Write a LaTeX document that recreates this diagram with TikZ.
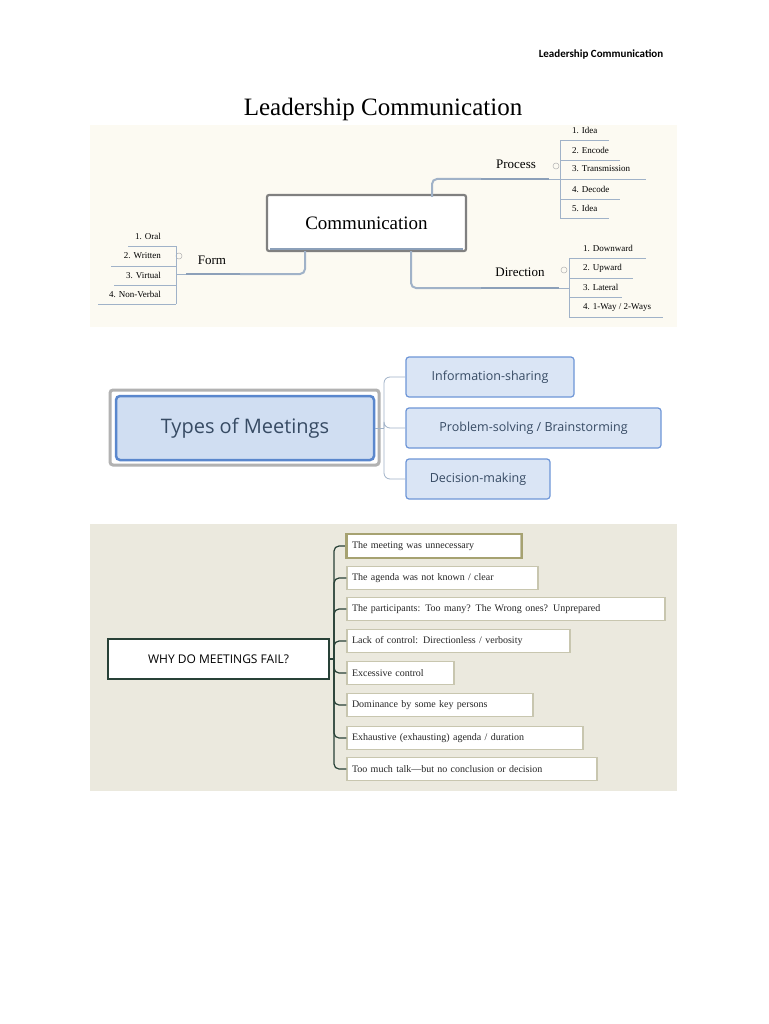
\documentclass[tikz,border=0pt]{standalone}
\usepackage{fontspec}
\setmainfont{Liberation Serif}
\newfontfamily\hdr{Carlito}
\newfontfamily\osans{Open Sans}
\definecolor{brc}{RGB}{160,178,200}
\definecolor{tbrc}{RGB}{140,160,185}
\definecolor{mborder}{RGB}{110,150,215}
\definecolor{mfill}{RGB}{218,229,245}
\definecolor{mtext}{RGB}{55,75,100}
\definecolor{tborder}{RGB}{90,135,205}
\definecolor{tfill}{RGB}{208,222,242}
\definecolor{fgreen}{RGB}{40,65,55}
\definecolor{fbord}{RGB}{200,198,175}
\definecolor{p3}{RGB}{235,233,222}
\definecolor{p1}{RGB}{252,250,242}
\begin{document}
\begin{tikzpicture}[x=1pt,y=-1pt,
  br/.style={draw=brc,line width=0.7pt},
  thick br/.style={draw=tbrc,line width=2.5pt},
  itm/.style={font=\fontsize{9}{10}\selectfont,inner sep=1pt},
  mbox/.style={draw=mborder,line width=1.2pt,fill=mfill,rounded corners=3pt,font=\osans\fontsize{12.5}{14}\selectfont,text=mtext,minimum height=40pt,inner sep=0pt},
  fbox/.style={draw=fbord,line width=1.2pt,fill=white,minimum height=23pt,inner sep=0pt,font=\fontsize{10}{11}\selectfont,text=black!85},
  circ/.style={draw=gray!60,circle,inner sep=0pt,minimum size=6pt,line width=0.5pt}]
\useasboundingbox (0,0) rectangle (768,1024);
\fill[white] (0,0) rectangle (768,1024);
\node[font=\hdr\bfseries\fontsize{11}{12}\selectfont] (hdr) at (601,55) {Leadership Communication};
\node[font=\fontsize{25}{28}\selectfont] (title) at (383,109) {Leadership Communication};
% panel 1
\fill[p1] (90,125) rectangle (677,327);
\node[draw=gray,line width=2.2pt,rounded corners=2pt,minimum width=199pt,minimum height=56pt,fill=white,font=\fontsize{19}{22}\selectfont] (comm) at (366.5,223) {Communication};
\draw[thick br,line width=2pt] (270,249) -- (463,249);
% process
\node[font=\fontsize{13}{15}\selectfont] (proc) at (516,164) {Process};
\draw[br,line width=2pt,rounded corners=5pt] (432,197) |- (481,179);
\draw[thick br] (481,179) -- (549,179);
\draw[br] (549,179) -- (560,179);
\node[circ] (pc) at (556,166) {};
\draw[br] (560,141) -- (560,218);
\foreach \t/\y/\e in {{1. Idea}/130/609,{2. Encode}/150/620,{3. Transmission}/169/646,{4. Decode}/189/620,{5. Idea}/208/609}{
  \node[itm,anchor=west] at (571,\y) {\t};
  \draw[br] (560,\y+10.5) -- (\e,\y+10.5);}
% form
\node[font=\fontsize{13}{15}\selectfont] (form) at (212,260) {Form};
\draw[br,line width=2pt,rounded corners=5pt] (305,251) |- (240,274);
\draw[thick br] (240,274) -- (186,274);
\draw[br] (186,274) -- (176,274);
\node[circ] (fc) at (179,256) {};
\draw[br] (176,246) -- (176,304);
\foreach \t/\y/\e in {{1. Oral}/236/128,{2. Written}/256/111,{3. Virtual}/275/114,{4. Non-Verbal}/294/98}{
  \node[itm,anchor=east] at (162,\y) {\t};
  \draw[br] (176,\y+10) -- (\e,\y+10);}
% direction
\node[font=\fontsize{13}{15}\selectfont] (dir) at (520,272) {Direction};
\draw[br,line width=2pt,rounded corners=5pt] (411,251) |- (481,288);
\draw[thick br] (481,288) -- (559,288);
\draw[br] (559,288) -- (569,288);
\node[circ] (dc) at (564,270) {};
\draw[br] (569,258) -- (569,317);
\foreach \t/\y/\e in {{1. Downward}/248/646,{2. Upward}/268/633,{3. Lateral}/287/622,{4. 1-Way / 2-Ways}/307/663}{
  \node[itm,anchor=west] at (582,\y) {\t};
  \draw[br] (569,\y+10) -- (\e,\y+10);}
% meetings
\draw[gray!60,line width=3pt,rounded corners=3pt] (110,390) rectangle (379,465);
\node[draw=tborder,line width=2.5pt,fill=tfill,rounded corners=4pt,minimum width=258pt,minimum height=64pt,font=\osans\fontsize{20}{24}\selectfont,text=mtext] (types) at (245,428) {Types of Meetings};
\node[mbox,minimum width=168pt] (m1) at (490,377) {Information-sharing};
\node[mbox,minimum width=255pt] (m2) at (533.5,428) {Problem-solving / Brainstorming};
\node[mbox,minimum width=144pt] (m3) at (478,479) {Decision-making};
\coordinate (mt) at (384,428);
\draw[brc,line width=0.8pt] (types.east) -- (mt);
\foreach \m in {m1,m2,m3}{\draw[brc,line width=0.8pt,rounded corners=6pt] (mt) |- (\m.west);}
% panel 3
\fill[p3] (90,524) rectangle (677,791);
\node[draw=fgreen,line width=2.5pt,fill=white,minimum width=221pt,minimum height=40pt,font=\osans\fontsize{12}{14}\selectfont] (why) at (218.5,659) {WHY DO MEETINGS FAIL?};
\coordinate (ft) at (334,659);
\draw[fgreen,line width=1.2pt] (why.east) -- (ft);
\foreach \i/\y/\r/\t in {1/546/521/{The meeting was unnecessary},2/578/538/{The agenda was not known / clear},3/609/665/{The participants: Too many? The Wrong ones? Unprepared},4/641/570/{Lack of control: Directionless / verbosity},5/673/454/{Excessive control},6/705/533/{Dominance by some key persons},7/738/583/{Exhaustive (exhausting) agenda / duration},8/769/597/{Too much talk---but no conclusion or decision}}{
  \pgfmathsetmacro{\w}{\r-347}
  \pgfmathsetmacro{\tw}{\r-357}
  \pgfmathsetmacro{\cx}{(347+\r)/2}
  \node[fbox,minimum width=\w pt,text width=\tw pt,align=left] (f\i) at (\cx,\y) {\t};
  \draw[fgreen,line width=1.2pt,rounded corners=5pt] (ft) |- (f\i.west);}
\draw[olive!40!gray!80,line width=2.2pt] (f1.south west) rectangle (f1.north east);
\end{tikzpicture}
\end{document}
